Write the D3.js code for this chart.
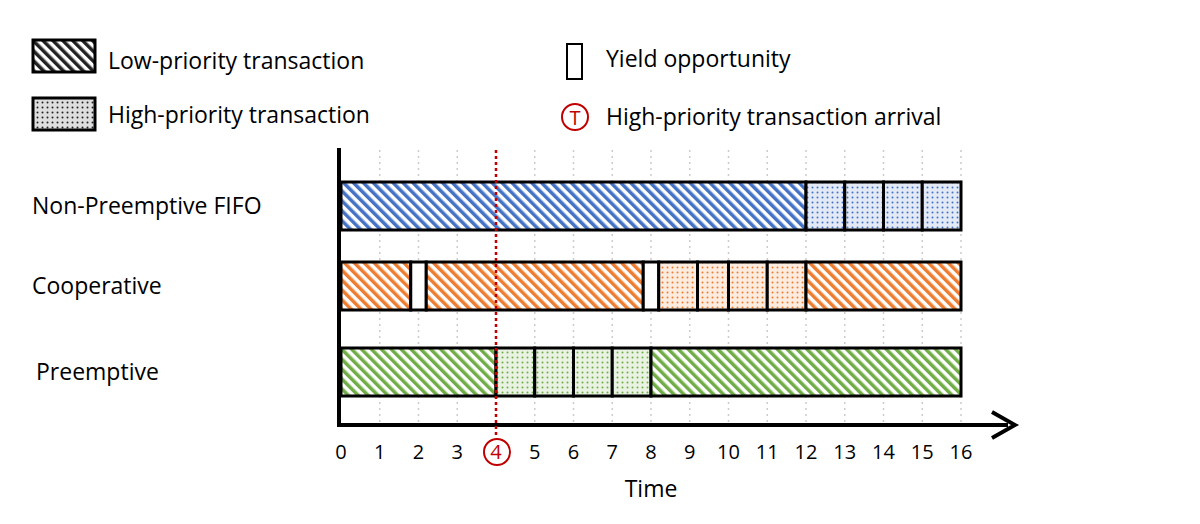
<!DOCTYPE html>
<html><head><meta charset="utf-8">
<script src="https://cdn.jsdelivr.net/npm/d3@7"></script>
<style>body{margin:0;background:#fff}text{font-family:"Open Sans",sans-serif}</style>
</head><body><svg id="chart" width="1200" height="524"></svg>
<script>
(function (d3) {
    'use strict';

    var rows = ['Non-Preemptive FIFO', 'Cooperative', 'Preemptive'],
        rowColors = ['#4472c4', '#ed7d31', '#70ad47'],
        ticks = d3.range(0, 17),
        arrival = 4,
        // [row, start, end, kind]  kind: low | high | yield
        segments = [
            [0, 0, 12, 'low'], [0, 12, 13, 'high'], [0, 13, 14, 'high'], [0, 14, 15, 'high'], [0, 15, 16, 'high'],
            [1, 0, 1.8, 'low'], [1, 1.8, 2.2, 'yield'], [1, 2.2, 7.8, 'low'], [1, 7.8, 8.2, 'yield'],
            [1, 8.2, 9.2, 'high'], [1, 9.2, 10, 'high'], [1, 10, 11, 'high'], [1, 11, 12, 'high'], [1, 12, 16, 'low'],
            [2, 0, 4, 'low'], [2, 4, 5, 'high'], [2, 5, 6, 'high'], [2, 6, 7, 'high'], [2, 7, 8, 'high'], [2, 8, 16, 'low']
        ];

    var svg = d3.select('#chart'),
        defs = svg.append('defs'),
        x = d3.scaleLinear().domain([0, 16]).range([341, 961]),
        rowY = {0: 182, 1: 262, 2: 348};

    function makePatterns(id, color) {
        var p = defs.append('pattern').attr('id', 'low-' + id).attr('width', 7).attr('height', 7)
            .attr('patternUnits', 'userSpaceOnUse').attr('patternTransform', 'rotate(-45)');
        p.append('rect').attr('width', 7).attr('height', 7).attr('fill', '#fff');
        p.append('rect').attr('width', 3.5).attr('height', 7).attr('fill', color);
        var q = defs.append('pattern').attr('id', 'high-' + id).attr('width', 5).attr('height', 5)
            .attr('patternUnits', 'userSpaceOnUse');
        q.append('rect').attr('width', 5).attr('height', 5).attr('fill', d3.interpolateRgb(color, '#fff')(0.85));
        q.append('circle').attr('cx', 2.5).attr('cy', 2.5).attr('r', 1).attr('fill', color);
    }
    rowColors.forEach(function (c, i) { makePatterns(i, c); });
    makePatterns('k', '#222');

    // grid
    svg.append('g').selectAll('line').data(ticks.slice(1)).join('line')
        .attr('x1', x).attr('x2', x).attr('y1', 150).attr('y2', 422)
        .attr('stroke', '#ccc').attr('stroke-width', 1.5).attr('stroke-dasharray', '2,4');

    // bars
    svg.append('g').selectAll('rect').data(segments).join('rect')
        .attr('x', function (d) { return x(d[1]); })
        .attr('width', function (d) { return x(d[2]) - x(d[1]); })
        .attr('y', function (d) { return rowY[d[0]]; })
        .attr('height', 48)
        .attr('fill', function (d) { return d[3] === 'yield' ? '#fff' : 'url(#' + d[3] + '-' + d[0] + ')'; })
        .attr('stroke', '#000').attr('stroke-width', 3);

    // row labels
    svg.append('g').selectAll('text').data(rows).join('text')
        .attr('x', function (d, i) { return i === 2 ? 36 : 32; })
        .attr('y', function (d, i) { return rowY[i] + 32; })
        .attr('font-size', 23).text(function (d) { return d; });

    // axes
    svg.append('line').attr('x1', 339).attr('x2', 339).attr('y1', 148).attr('y2', 427).attr('stroke', '#000').attr('stroke-width', 4);
    svg.append('line').attr('x1', 337).attr('x2', 1008).attr('y1', 425).attr('y2', 425).attr('stroke', '#000').attr('stroke-width', 4);
    svg.append('path').attr('d', 'M992,412 L1015,425 L992,438').attr('fill', 'none').attr('stroke', '#000').attr('stroke-width', 4);

    svg.append('g').selectAll('text').data(ticks).join('text')
        .attr('x', x).attr('y', 459).attr('text-anchor', 'middle').attr('font-size', 20)
        .attr('fill', function (d) { return d === arrival ? '#c00000' : '#000'; })
        .text(String);
    svg.append('circle').attr('cx', x(arrival) + 1).attr('cy', 452).attr('r', 13)
        .attr('fill', 'none').attr('stroke', '#c00000').attr('stroke-width', 2);
    svg.append('text').attr('x', x(8)).attr('y', 497).attr('text-anchor', 'middle').attr('font-size', 23).text('Time');

    // arrival line
    svg.append('line').attr('x1', x(arrival)).attr('x2', x(arrival)).attr('y1', 150).attr('y2', 438)
        .attr('stroke', '#c00000').attr('stroke-width', 2.5).attr('stroke-dasharray', '3,3');

    // legend
    svg.append('rect').attr('x', 33).attr('y', 40).attr('width', 62).attr('height', 32)
        .attr('fill', 'url(#low-k)').attr('stroke', '#000').attr('stroke-width', 3);
    svg.append('rect').attr('x', 33).attr('y', 98).attr('width', 62).attr('height', 32)
        .attr('fill', 'url(#high-k)').attr('stroke', '#000').attr('stroke-width', 3);
    svg.append('text').attr('x', 108).attr('y', 69).attr('font-size', 23).text('Low-priority transaction');
    svg.append('text').attr('x', 108).attr('y', 123).attr('font-size', 23).text('High-priority transaction');
    svg.append('rect').attr('x', 567).attr('y', 44).attr('width', 15).attr('height', 35)
        .attr('fill', '#fff').attr('stroke', '#000').attr('stroke-width', 2);
    svg.append('text').attr('x', 606).attr('y', 67).attr('font-size', 23).text('Yield opportunity');
    svg.append('circle').attr('cx', 575).attr('cy', 117).attr('r', 13)
        .attr('fill', 'none').attr('stroke', '#c00000').attr('stroke-width', 2);
    svg.append('text').attr('x', 575).attr('y', 125).attr('text-anchor', 'middle').attr('font-size', 20)
        .attr('fill', '#c00000').text('T');
    svg.append('text').attr('x', 606).attr('y', 125).attr('font-size', 23).text('High-priority transaction arrival');
}(window.d3));
</script></body></html>
